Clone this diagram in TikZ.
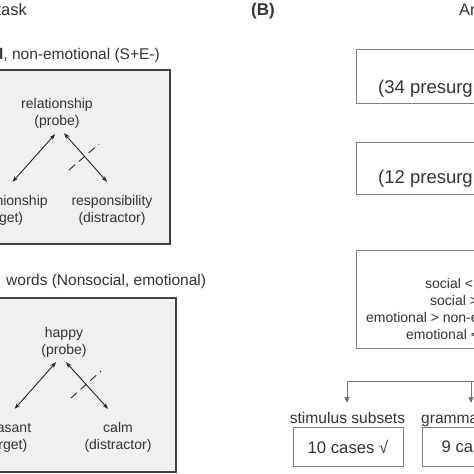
\documentclass[tikz,border=0pt]{standalone}
\usepackage{fontspec}
\setmainfont{Liberation Sans}
\usetikzlibrary{arrows.meta}
\newcommand{\wordsize}{\fontsize{14}{17}\selectfont}
\newcommand{\headsize}{\fontsize{15.5}{18}\selectfont}
\newcommand{\titlesize}{\fontsize{16.5}{19}\selectfont}
\newcommand{\boxsize}{\fontsize{18.5}{22}\selectfont}
\newcommand{\casesize}{\fontsize{16.7}{20}\selectfont}

\begin{document}
\begin{tikzpicture}[x=1pt, y=-1pt,
    panel/.style={draw=black!75, fill=black!6, line width=1.4pt},
    word/.style={align=center, inner sep=0pt, text=black!80, font=\wordsize},
    head/.style={inner sep=0pt, text=black!80, font=\headsize},
    link/.style={{Stealth[length=6pt,width=4.5pt]}-{Stealth[length=6pt,width=4.5pt]}, line width=0.9pt, black!85},
    cut/.style={dash pattern=on 8pt off 5pt, line width=0.9pt, black!85},
    flow/.style={draw=black!50, line width=1pt, fill=white, anchor=north west, inner sep=0pt},
    line/.style={inner sep=0pt, text=black!80, font=\wordsize, anchor=base west},
    feed/.style={-{Triangle[length=6pt,width=5pt]}, draw=black!55, line width=1pt},
    casebox/.style={draw=black!50, line width=1pt, minimum height=39pt, inner sep=0pt, text=black!80, font=\casesize}]
    \useasboundingbox (0,0) rectangle (474,474);
    \clip (0,0) rectangle (474,474);

    % Titles
    \node[inner sep=0pt, anchor=base east, font=\titlesize, text=black!80] (title-a) at (27,15) {task};
    \node[inner sep=0pt, anchor=base west, font=\bfseries\fontsize{17}{20}\selectfont, text=black!80] (title-b) at (251,15.5) {(B)};
    \node[inner sep=0pt, anchor=base west, font=\titlesize, text=black!80] (title-c) at (459,15) {Analysis};

    % First panel
    \node[head, anchor=base east] (head-1) at (160,59) {{\bfseries Social}, non-emotional (S+E-)};
    \draw[panel] (-10,70) rectangle (170,244);
    \node[word] (probe-1) at (57,113) {relationship\\(probe)};
    \node[word] (target-1) at (0.6,210) {companionship\\(target)};
    \node[word] (distr-1) at (112,210) {responsibility\\(distractor)};
    \draw[link] ([shift={(-2,6)}]probe-1.south) -- ([shift={(12,-13)}]target-1.north);
    \draw[link] ([shift={(7,5)}]probe-1.south) -- ([shift={(-5,-13)}]distr-1.north);
    \draw[cut] (69,170) -- (99,144);

    % Second panel
    \node[head, anchor=base west] (head-2) at (6,285) {words (Nonsocial, emotional)};
    \draw[panel] (-10,298) rectangle (176,472);
    \node[word] (probe-2) at (64,342) {happy\\(probe)};
    \node[word] (target-2) at (4.7,437) {pleasant\\(target)};
    \node[word] (distr-2) at (118,437) {calm\\(distractor)};
    \draw[link] ([shift={(-8,5)}]probe-2.south) -- ([shift={(10,-13)}]target-2.north);
    \draw[link] ([shift={(2,5)}]probe-2.south) -- ([shift={(-10,-13)}]distr-2.north);
    \draw[cut] (71,398) -- (101,371);

    % Analysis boxes
    \node[flow, minimum width=160pt, minimum height=54pt] (sample) at (356,49) {};
    \node[line, font=\boxsize] (sample-txt) at (378,93) {(34 presurgical};
    \node[flow, minimum width=160pt, minimum height=52pt] (subgroup) at (356,142) {};
    \node[line, font=\boxsize] (subgroup-txt) at (378,183) {(12 presurgical};
    \node[flow, minimum width=160pt, minimum height=98pt] (contrast) at (356,250) {};
    \node[line] (contrast-1) at (425,288) {social <};
    \node[line] (contrast-2) at (430,305.5) {social >};
    \node[line] (contrast-3) at (366,322.5) {emotional > non-emotional};
    \node[line] (contrast-4) at (406,339) {emotional <};

    % Split into checks
    \coordinate (fork-r) at (500,381);
    \coordinate (fork-m) at (471,381);
    \coordinate (tip-l) at (347,403);
    \coordinate (tip-r) at (471,403);
    \draw[feed] (fork-r) -| (tip-l);
    \draw[feed] (fork-m) -- (tip-r);
    \node[inner sep=0pt, anchor=base, font=\fontsize{15.6}{18}\selectfont, text=black!80] (subset-lbl) at (347.5,423) {stimulus subsets};
    \node[inner sep=0pt, anchor=base west, font=\fontsize{15.6}{18}\selectfont, text=black!80] (gram-lbl) at (421,423) {grammatical};
    \node[casebox, minimum width=110pt] (subset-box) at (348,446.5) {10 cases √};
    \node[casebox, minimum width=96pt, anchor=west] (gram-box) at (422,446.5) {9 cases};

\end{tikzpicture}
\end{document}
